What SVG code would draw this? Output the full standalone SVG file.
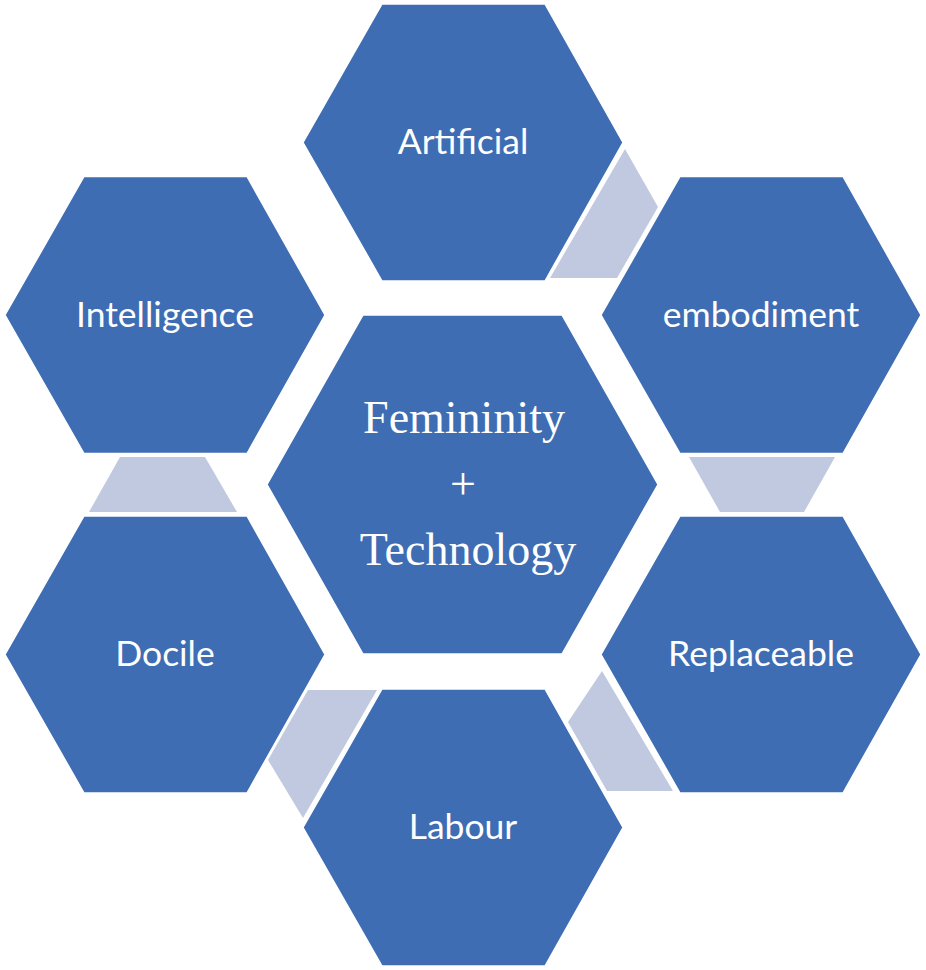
<svg xmlns="http://www.w3.org/2000/svg" width="926" height="970" viewBox="0 0 926 970">
<style>
.hex{fill:#3E6DB4;stroke:#ffffff;stroke-width:1.5}
.con{fill:#C1C9E0}
.lbl{font-family:Lato,"Open Sans","Liberation Sans",sans-serif;font-size:35.5px;fill:#ffffff;text-anchor:middle}
.ctr{font-family:"Liberation Serif","Times New Roman",serif;font-size:46px;fill:#ffffff;text-anchor:middle}
</style>
<defs>
<polygon id="hx" points="-160,0 -81,-138.5 82,-138.5 160,0 82,138.5 -81,138.5"/>
</defs>
<rect width="926" height="970" fill="#ffffff"/>
<g id="connectors">
<polygon class="con" points="550,278 625,149 658,207 617,278"/>
<polygon class="con" points="689,457 835,457 804,512 720,512"/>
<polygon class="con" points="602,671 673,791 607,791 568,722"/>
<polygon class="con" points="308,690 377,690 303,818 268,760"/>
<polygon class="con" points="120,457 205,457 237,512 89,512"/>
</g>
<g id="center">
<polygon class="hex" points="267,484.5 363,315 562,315 658,484.5 562,654 363,654"/>
<text class="ctr" x="464" y="433">Femininity</text>
<text class="ctr" x="463" y="499">+</text>
<text class="ctr" x="468" y="565">Technology</text>
</g>
<g id="artificial">
<use href="#hx" class="hex" x="463" y="142.5"/>
<text class="lbl" x="463" y="154">Artificial</text>
</g>
<g id="embodiment">
<use href="#hx" class="hex" x="761" y="315"/>
<text class="lbl" x="761" y="327">embodiment</text>
</g>
<g id="replaceable">
<use href="#hx" class="hex" x="761" y="654.5"/>
<text class="lbl" x="761" y="666">Replaceable</text>
</g>
<g id="labour">
<use href="#hx" class="hex" x="463" y="827.5"/>
<text class="lbl" x="463" y="839">Labour</text>
</g>
<g id="docile">
<use href="#hx" class="hex" x="165" y="654.5"/>
<text class="lbl" x="165" y="666">Docile</text>
</g>
<g id="intelligence">
<use href="#hx" class="hex" x="165" y="315"/>
<text class="lbl" x="165" y="327">Intelligence</text>
</g>
</svg>
